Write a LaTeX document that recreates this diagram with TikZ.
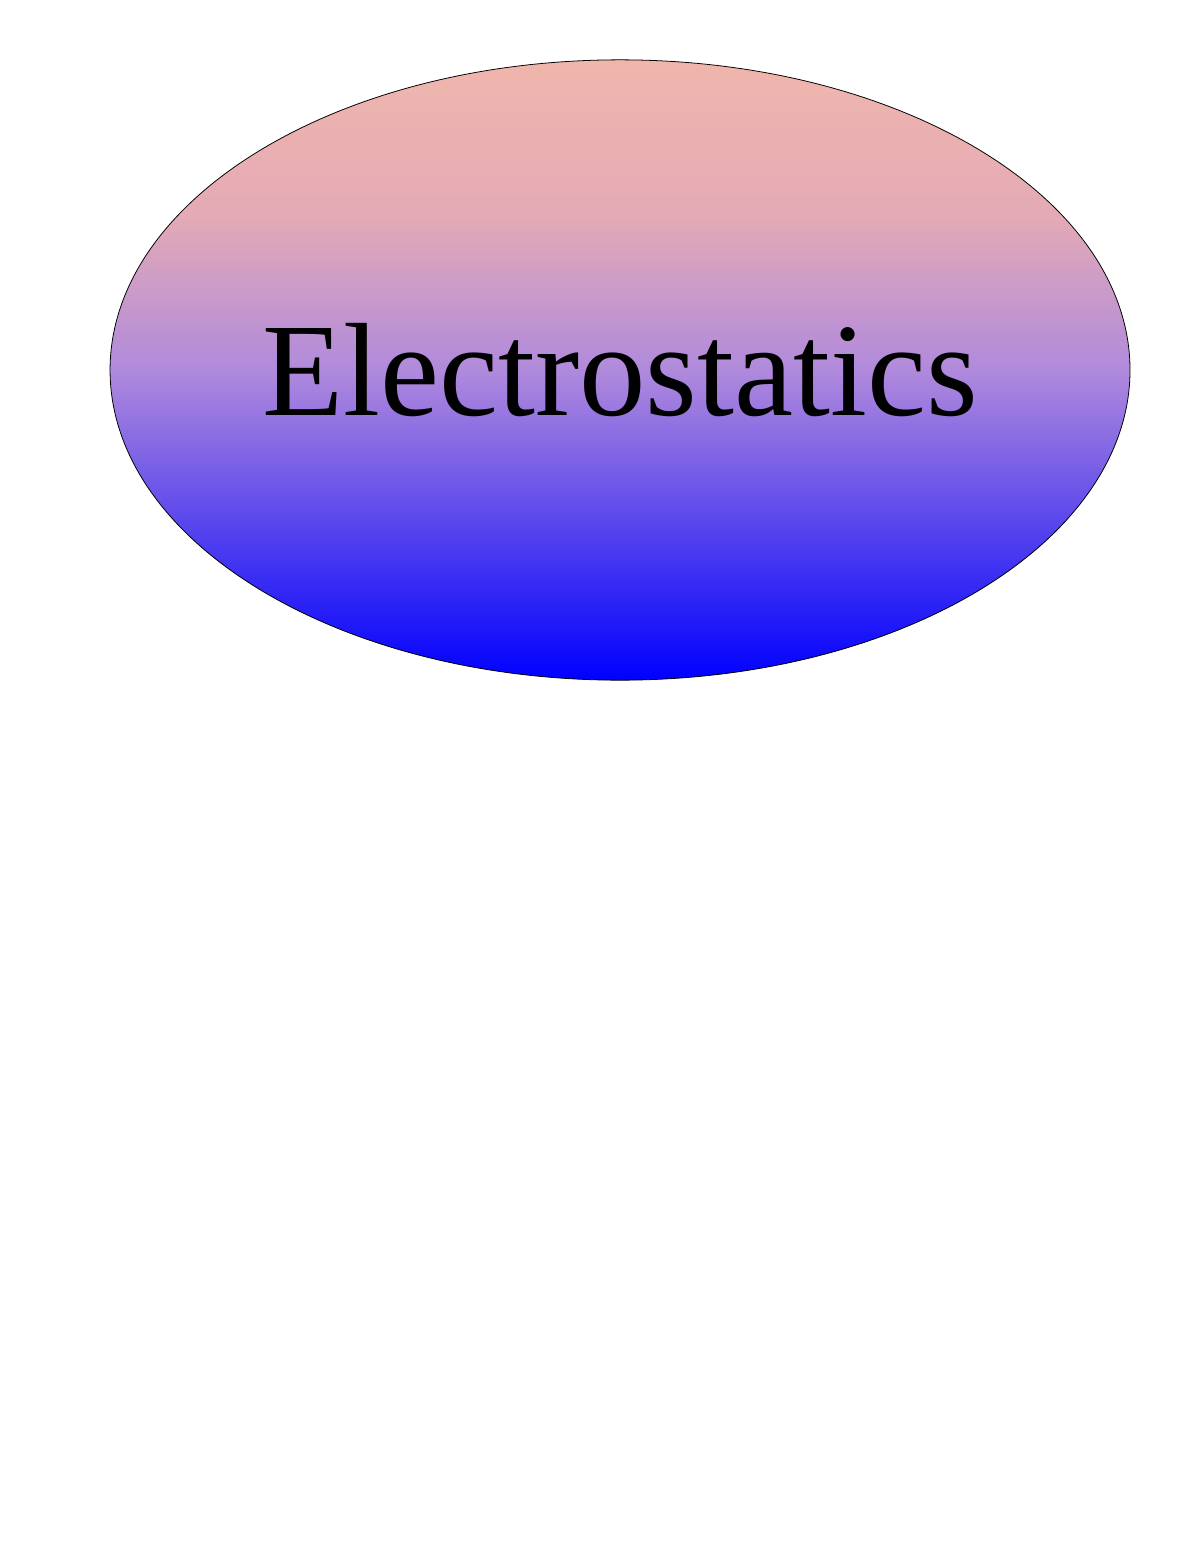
\documentclass[tikz,border=0pt]{standalone}
\usepackage{fontspec}
\setmainfont{Liberation Serif}
\usetikzlibrary{shapes}

\definecolor{topc}{RGB}{240,182,172}
\definecolor{pinkc}{RGB}{228,170,182}
\definecolor{midc}{RGB}{176,138,220}
\pgfdeclareverticalshading{ellshade}{100bp}{color(0bp)=(blue); color(25bp)=(blue); color(50bp)=(midc); color(62.5bp)=(pinkc); color(75bp)=(topc); color(100bp)=(topc)}

\begin{document}
\begin{tikzpicture}
\useasboundingbox (0,0) rectangle (21.59,27.94);
\node[shape=ellipse,draw=black,align=center,line width=0.4pt,minimum width=18.35cm,minimum height=11.16cm,inner sep=0pt,shading=ellshade,font=\fontsize{68}{80}\selectfont] (0) at (11.155,21.283) {\raisebox{-2pt}{Electrostatics}};
\end{tikzpicture}
\end{document}
